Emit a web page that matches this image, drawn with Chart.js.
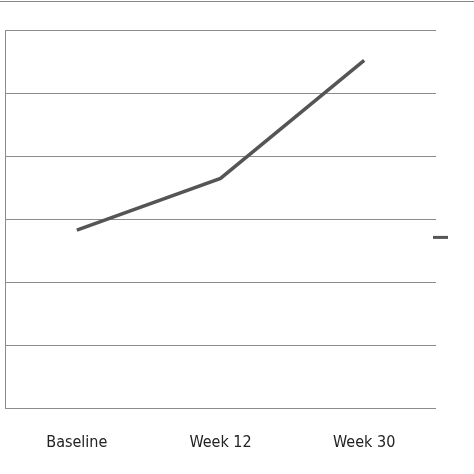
<!DOCTYPE html>
<html>
<head>
<meta charset="utf-8">
<script src="https://cdn.jsdelivr.net/npm/chart.js@4"></script>
<style>
  html, body { margin: 0; padding: 0; background: #fff; }
  #wrap { width: 474px; height: 474px; }
</style>
</head>
<body>
<div id="wrap"><canvas id="c"></canvas></div>
<script>
// ── Data ──────────────────────────────────────────────────────────────────────
const categories = ["Baseline", "Week 12", "Week 30"];
const values     = [2.83, 3.65, 5.52];

// small legend stub peeking in at the right edge (cropped legend)
const legendStub = {
    id: "legendStub",
    afterDraw(chart) {
        const { ctx, chartArea } = chart;
        const y = (chartArea.top + chartArea.bottom) / 2 + 18;
        ctx.save();
        ctx.strokeStyle = "#555";
        ctx.lineWidth = 3;
        ctx.beginPath();
        ctx.moveTo(chartArea.right - 3, y);
        ctx.lineTo(chartArea.right + 12, y);
        ctx.stroke();
        // top frame line
        ctx.strokeStyle = "#888";
        ctx.lineWidth = 1;
        ctx.beginPath();
        ctx.moveTo(0, 1.5);
        ctx.lineTo(474, 1.5);
        ctx.stroke();
        ctx.restore();
    }
};

// ── Chart ─────────────────────────────────────────────────────────────────────
new Chart(document.getElementById("c"), {
    type: "line",
    data: {
        labels: categories,
        datasets: [{
            data: values,
            borderColor: "#555555",
            borderWidth: 3.5,
            pointRadius: 0,
            tension: 0
        }]
    },
    options: {
        responsive: true,
        maintainAspectRatio: false,
        animation: false,
        layout: { padding: { left: 5, top: 30, right: 38, bottom: 6 } },
        plugins: { legend: { display: false }, tooltip: { enabled: false } },
        scales: {
            x: {
                offset: true,
                grid: { display: false },
                border: { display: false },
                ticks: { color: "#222", font: { family: "DejaVu Sans Condensed, DejaVu Sans", size: 16 }, padding: 16 }
            },
            y: {
                min: 0, max: 6,
                afterFit(scale) { scale.width = 0; },
                ticks: { display: false, stepSize: 1 },
                grid: { color: "#8c8c8c", lineWidth: 1, drawTicks: false },
                border: { display: true, color: "#8c8c8c" }
            }
        }
    },
    plugins: [legendStub]
});
</script>
</body>
</html>
